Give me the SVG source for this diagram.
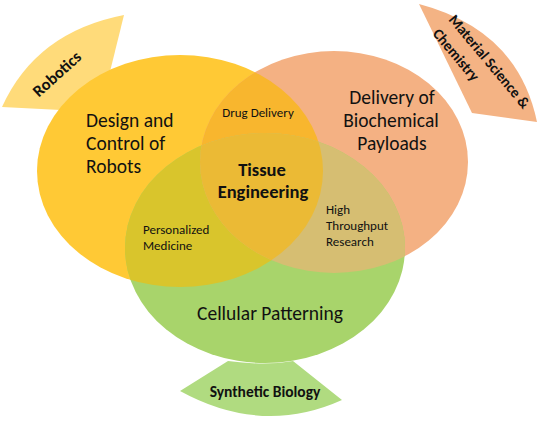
<svg xmlns="http://www.w3.org/2000/svg" width="543" height="438" viewBox="0 0 543 438">
<style>
text{font-family:Carlito,Lato,"Liberation Sans",sans-serif;fill:#111}
.big{font-size:19.5px}
.small{font-size:13px}
.bold{font-weight:bold}
</style>
<defs>
<ellipse id="eY" cx="180" cy="171" rx="143" ry="116"/>
<ellipse id="eO" cx="334" cy="162" rx="134" ry="111"/>
<ellipse id="eG" cx="265" cy="248" rx="140" ry="115"/>
<clipPath id="cO"><use href="#eO"/></clipPath>
<clipPath id="cG"><use href="#eG"/></clipPath>
</defs>
<rect width="543" height="438" fill="#fff"/>
<g id="robotics">
<path d="M2,107 Q36,32 124,15 L100,112 Z" fill="#FFDB7A"/>
<text class="bold" font-size="16.5" text-anchor="middle" transform="translate(57,74) rotate(-42)" dy="5.5">Robotics</text>
</g>
<g id="material-science">
<path d="M419,4 Q518,30 537,122 L472,113 Z" fill="#F4B384"/>
<text class="bold" font-size="15" transform="translate(448,20) rotate(50)">Material Science &amp;</text>
<text class="bold" font-size="15" transform="translate(432,34) rotate(50)">Chemistry</text>
</g>
<g id="synthetic-biology">
<path d="M180,391 L228,361 Q265,366 293,361 L342,400 Q262,436 180,391 Z" fill="#B0DB80"/>
<text class="bold" font-size="15.5" text-anchor="middle" x="265" y="397">Synthetic Biology</text>
</g>
<g id="design-control">
<use href="#eY" fill="#FFC935"/>
</g>
<g id="delivery">
<use href="#eO" fill="#F4B183"/>
</g>
<g id="cellular-patterning">
<use href="#eG" fill="#A8D46B"/>
</g>
<g id="drug-delivery">
<use href="#eY" fill="#F8B62E" clip-path="url(#cO)"/>
</g>
<g id="personalized-medicine">
<use href="#eY" fill="#D9C52C" clip-path="url(#cG)"/>
</g>
<g id="high-throughput">
<use href="#eO" fill="#D6BE72" clip-path="url(#cG)"/>
</g>
<g id="tissue-engineering">
<g clip-path="url(#cG)"><use href="#eY" fill="#EBBA35" clip-path="url(#cO)"/></g>
</g>
<g id="connectors"/>
<g id="labels">
<text class="big" x="86" y="127">Design and</text>
<text class="big" x="86" y="150">Control of</text>
<text class="big" x="86" y="173">Robots</text>
<text class="big" text-anchor="middle" x="392" y="104">Delivery of</text>
<text class="big" text-anchor="middle" x="391" y="127">Biochemical</text>
<text class="big" text-anchor="middle" x="392" y="150">Payloads</text>
<text class="small" text-anchor="middle" x="258" y="117">Drug Delivery</text>
<text class="bold" font-size="18.5" text-anchor="middle" x="262" y="176">Tissue</text>
<text class="bold" font-size="18.5" text-anchor="middle" x="263" y="198">Engineering</text>
<text class="small" x="143" y="234">Personalized</text>
<text class="small" x="143" y="250">Medicine</text>
<text class="small" x="326" y="214">High</text>
<text class="small" x="326" y="230">Throughput</text>
<text class="small" x="326" y="246">Research</text>
<text class="big" text-anchor="middle" x="270" y="320">Cellular Patterning</text>
</g>
</svg>
